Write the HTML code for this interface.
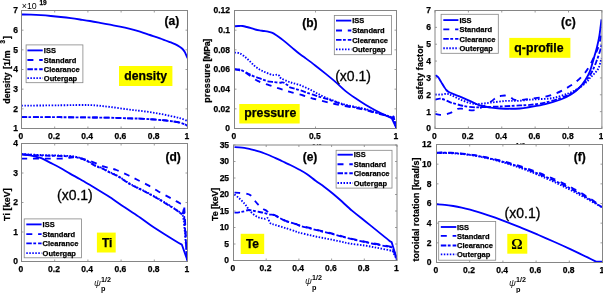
<!DOCTYPE html>
<html><head><meta charset="utf-8"><style>
html,body{margin:0;padding:0;background:#fff;width:603px;height:293px;overflow:hidden}
svg{display:block}
</style></head><body>
<svg width="603" height="293" viewBox="0 0 603 293" font-family="'Liberation Sans', Arial, Helvetica, sans-serif">
<rect width="603" height="293" fill="#fff"/>
<rect x="21.5" y="10.5" width="166.0" height="118.0" fill="#fff"/>
<clipPath id="clip_a"><rect x="21.5" y="10.5" width="166.0" height="118.0"/></clipPath>
<line x1="21.50" y1="128.5" x2="21.50" y2="126.5" stroke="#858585" stroke-width="0.8"/>
<line x1="21.50" y1="10.5" x2="21.50" y2="12.5" stroke="#858585" stroke-width="0.8"/>
<text x="20.80" y="139.10" font-size="8.5" font-weight="bold" text-anchor="middle" fill="#000" stroke="#000" stroke-width="0.25" >0</text>
<line x1="54.70" y1="128.5" x2="54.70" y2="126.5" stroke="#858585" stroke-width="0.8"/>
<line x1="54.70" y1="10.5" x2="54.70" y2="12.5" stroke="#858585" stroke-width="0.8"/>
<text x="54.00" y="139.10" font-size="8.5" font-weight="bold" text-anchor="middle" fill="#000" stroke="#000" stroke-width="0.25" >0.2</text>
<line x1="87.90" y1="128.5" x2="87.90" y2="126.5" stroke="#858585" stroke-width="0.8"/>
<line x1="87.90" y1="10.5" x2="87.90" y2="12.5" stroke="#858585" stroke-width="0.8"/>
<text x="87.20" y="139.10" font-size="8.5" font-weight="bold" text-anchor="middle" fill="#000" stroke="#000" stroke-width="0.25" >0.4</text>
<line x1="121.10" y1="128.5" x2="121.10" y2="126.5" stroke="#858585" stroke-width="0.8"/>
<line x1="121.10" y1="10.5" x2="121.10" y2="12.5" stroke="#858585" stroke-width="0.8"/>
<text x="120.40" y="139.10" font-size="8.5" font-weight="bold" text-anchor="middle" fill="#000" stroke="#000" stroke-width="0.25" >0.6</text>
<line x1="154.30" y1="128.5" x2="154.30" y2="126.5" stroke="#858585" stroke-width="0.8"/>
<line x1="154.30" y1="10.5" x2="154.30" y2="12.5" stroke="#858585" stroke-width="0.8"/>
<text x="153.60" y="139.10" font-size="8.5" font-weight="bold" text-anchor="middle" fill="#000" stroke="#000" stroke-width="0.25" >0.8</text>
<line x1="187.50" y1="128.5" x2="187.50" y2="126.5" stroke="#858585" stroke-width="0.8"/>
<line x1="187.50" y1="10.5" x2="187.50" y2="12.5" stroke="#858585" stroke-width="0.8"/>
<text x="186.80" y="139.10" font-size="8.5" font-weight="bold" text-anchor="middle" fill="#000" stroke="#000" stroke-width="0.25" >1</text>
<line x1="21.5" y1="128.50" x2="23.5" y2="128.50" stroke="#858585" stroke-width="0.8"/>
<line x1="187.5" y1="128.50" x2="185.5" y2="128.50" stroke="#858585" stroke-width="0.8"/>
<text x="17.90" y="131.40" font-size="8.5" font-weight="bold" text-anchor="end" fill="#000" stroke="#000" stroke-width="0.25" >1</text>
<line x1="21.5" y1="108.83" x2="23.5" y2="108.83" stroke="#858585" stroke-width="0.8"/>
<line x1="187.5" y1="108.83" x2="185.5" y2="108.83" stroke="#858585" stroke-width="0.8"/>
<text x="17.90" y="111.73" font-size="8.5" font-weight="bold" text-anchor="end" fill="#000" stroke="#000" stroke-width="0.25" >2</text>
<line x1="21.5" y1="89.17" x2="23.5" y2="89.17" stroke="#858585" stroke-width="0.8"/>
<line x1="187.5" y1="89.17" x2="185.5" y2="89.17" stroke="#858585" stroke-width="0.8"/>
<text x="17.90" y="92.07" font-size="8.5" font-weight="bold" text-anchor="end" fill="#000" stroke="#000" stroke-width="0.25" >3</text>
<line x1="21.5" y1="69.50" x2="23.5" y2="69.50" stroke="#858585" stroke-width="0.8"/>
<line x1="187.5" y1="69.50" x2="185.5" y2="69.50" stroke="#858585" stroke-width="0.8"/>
<text x="17.90" y="72.40" font-size="8.5" font-weight="bold" text-anchor="end" fill="#000" stroke="#000" stroke-width="0.25" >4</text>
<line x1="21.5" y1="49.83" x2="23.5" y2="49.83" stroke="#858585" stroke-width="0.8"/>
<line x1="187.5" y1="49.83" x2="185.5" y2="49.83" stroke="#858585" stroke-width="0.8"/>
<text x="17.90" y="52.73" font-size="8.5" font-weight="bold" text-anchor="end" fill="#000" stroke="#000" stroke-width="0.25" >5</text>
<line x1="21.5" y1="30.17" x2="23.5" y2="30.17" stroke="#858585" stroke-width="0.8"/>
<line x1="187.5" y1="30.17" x2="185.5" y2="30.17" stroke="#858585" stroke-width="0.8"/>
<text x="17.90" y="33.07" font-size="8.5" font-weight="bold" text-anchor="end" fill="#000" stroke="#000" stroke-width="0.25" >6</text>
<line x1="21.5" y1="10.50" x2="23.5" y2="10.50" stroke="#858585" stroke-width="0.8"/>
<line x1="187.5" y1="10.50" x2="185.5" y2="10.50" stroke="#858585" stroke-width="0.8"/>
<text x="17.90" y="13.40" font-size="8.5" font-weight="bold" text-anchor="end" fill="#000" stroke="#000" stroke-width="0.25" >7</text>
<path d="M21.50,105.70 C27.92,105.63 48.58,105.40 60.00,105.30 C71.42,105.20 81.73,104.83 90.00,105.10 C98.27,105.37 102.93,106.13 109.60,106.90 C116.27,107.67 124.93,109.05 130.00,109.70 C135.07,110.35 136.67,110.40 140.00,110.80 C143.33,111.20 146.67,111.60 150.00,112.10 C153.33,112.60 156.67,113.17 160.00,113.80 C163.33,114.43 166.67,115.17 170.00,115.90 C173.33,116.63 177.08,117.35 180.00,118.20 C182.92,119.05 186.25,120.53 187.50,121.00" fill="none" stroke="#0000ff" stroke-width="1.85" stroke-dasharray="1.5 1.5" stroke-linejoin="round" clip-path="url(#clip_a)"/>
<path d="M21.50,117.10 C27.92,117.12 45.42,117.10 60.00,117.20 C74.58,117.30 97.33,117.50 109.00,117.70 C120.67,117.90 124.83,118.25 130.00,118.40 C135.17,118.55 136.67,118.47 140.00,118.60 C143.33,118.73 146.67,118.97 150.00,119.20 C153.33,119.43 156.67,119.70 160.00,120.00 C163.33,120.30 166.67,120.55 170.00,121.00 C173.33,121.45 177.08,121.93 180.00,122.70 C182.92,123.47 186.25,125.12 187.50,125.60" fill="none" stroke="#0000ff" stroke-width="1.85" stroke-dasharray="5.8 5.9" stroke-linejoin="round" clip-path="url(#clip_a)"/>
<path d="M21.50,117.10 C27.92,117.12 45.42,117.10 60.00,117.20 C74.58,117.30 97.33,117.50 109.00,117.70 C120.67,117.90 124.83,118.25 130.00,118.40 C135.17,118.55 136.67,118.47 140.00,118.60 C143.33,118.73 146.67,118.97 150.00,119.20 C153.33,119.43 156.67,119.70 160.00,120.00 C163.33,120.30 166.67,120.55 170.00,121.00 C173.33,121.45 177.08,121.93 180.00,122.70 C182.92,123.47 186.25,125.12 187.50,125.60" fill="none" stroke="#0000ff" stroke-width="1.85" stroke-dasharray="5.5 1.5 2.8 2" stroke-linejoin="round" clip-path="url(#clip_a)"/>
<path d="M21.50,14.50 C23.08,14.53 27.77,14.58 31.00,14.70 C34.23,14.82 37.58,14.98 40.90,15.20 C44.22,15.42 47.58,15.70 50.90,16.00 C54.22,16.30 57.48,16.63 60.80,17.00 C64.12,17.37 67.60,17.78 70.80,18.20 C74.00,18.62 76.80,19.03 80.00,19.50 C83.20,19.97 86.67,20.45 90.00,21.00 C93.33,21.55 96.67,22.18 100.00,22.80 C103.33,23.42 106.67,24.07 110.00,24.70 C113.33,25.33 116.67,25.90 120.00,26.60 C123.33,27.30 126.67,28.07 130.00,28.90 C133.33,29.73 136.67,30.58 140.00,31.60 C143.33,32.62 146.67,33.87 150.00,35.00 C153.33,36.13 156.67,37.20 160.00,38.40 C163.33,39.60 167.50,41.23 170.00,42.20 C172.50,43.17 173.33,43.38 175.00,44.20 C176.67,45.02 178.67,46.22 180.00,47.10 C181.33,47.98 182.17,48.62 183.00,49.50 C183.83,50.38 184.25,50.95 185.00,52.40 C185.75,53.85 187.08,57.23 187.50,58.20" fill="none" stroke="#0000ff" stroke-width="1.85"  stroke-linejoin="round" clip-path="url(#clip_a)"/>
<rect x="21.5" y="10.5" width="166.00" height="118.00" fill="none" stroke="#858585" stroke-width="1"/>
<rect x="26.1" y="44.9" width="56.80" height="37.80" fill="#fff" stroke="#858585" stroke-width="0.8"/>
<line x1="27.4" y1="50.40" x2="42.7" y2="50.40" stroke="#0000ff" stroke-width="1.85" />
<text x="43.80" y="53.00" font-size="7.5" font-weight="bold" text-anchor="start" fill="#000" stroke="#000" stroke-width="0.25" >ISS</text>
<line x1="27.4" y1="60.00" x2="42.7" y2="60.00" stroke="#0000ff" stroke-width="1.85" stroke-dasharray="6 5.8"/>
<text x="43.80" y="62.60" font-size="7.5" font-weight="bold" text-anchor="start" fill="#000" stroke="#000" stroke-width="0.25" >Standard</text>
<line x1="27.4" y1="69.20" x2="42.7" y2="69.20" stroke="#0000ff" stroke-width="1.85" stroke-dasharray="5.5 1.5 2.8 2"/>
<text x="43.80" y="71.80" font-size="7.5" font-weight="bold" text-anchor="start" fill="#000" stroke="#000" stroke-width="0.25" >Clearance</text>
<line x1="27.4" y1="78.10" x2="42.7" y2="78.10" stroke="#0000ff" stroke-width="1.85" stroke-dasharray="1.5 1.5"/>
<text x="43.80" y="80.70" font-size="7.5" font-weight="bold" text-anchor="start" fill="#000" stroke="#000" stroke-width="0.25" >Outergap</text>
<rect x="119" y="66" width="53.40" height="20.00" fill="#ffff00"/>
<text x="145.70" y="80.30" font-size="12.2" font-weight="bold" text-anchor="middle" fill="#000" stroke="#000" stroke-width="0.25" >density</text>
<text x="164.50" y="24.60" font-size="12" font-weight="bold" text-anchor="start" fill="#000" stroke="#000" stroke-width="0.25" >(a)</text>
<text x="21.80" y="8.60" font-size="8.8" font-weight="normal" text-anchor="start" fill="#000"  >×10</text>
<text x="39.50" y="4.60" font-size="6.5" font-weight="bold" text-anchor="start" fill="#000" stroke="#000" stroke-width="0.25" >19</text>
<text x="0" y="0" font-size="8.9" font-weight="bold" textLength="31.3" lengthAdjust="spacing" transform="translate(9.60,103.80) rotate(-90)" stroke="#000" stroke-width="0.25">density</text>
<text x="0" y="0" font-size="8.9" font-weight="bold" textLength="18.7" lengthAdjust="spacing" transform="translate(9.60,69.10) rotate(-90)" stroke="#000" stroke-width="0.25">[1/m</text>
<text x="0" y="0" font-size="6.3" font-weight="bold" transform="translate(5.10,43.60) rotate(-90)" stroke="#000" stroke-width="0.25">3</text>
<text x="0" y="0" font-size="8.9" font-weight="bold" transform="translate(9.60,39.10) rotate(-90)" stroke="#000" stroke-width="0.25">]</text>
<rect x="234.5" y="10.5" width="162.0" height="118.0" fill="#fff"/>
<clipPath id="clip_b"><rect x="234.5" y="10.5" width="162.0" height="118.0"/></clipPath>
<line x1="234.50" y1="128.5" x2="234.50" y2="126.5" stroke="#858585" stroke-width="0.8"/>
<line x1="234.50" y1="10.5" x2="234.50" y2="12.5" stroke="#858585" stroke-width="0.8"/>
<text x="233.80" y="139.10" font-size="8.5" font-weight="bold" text-anchor="middle" fill="#000" stroke="#000" stroke-width="0.25" >0</text>
<line x1="315.50" y1="128.5" x2="315.50" y2="126.5" stroke="#858585" stroke-width="0.8"/>
<line x1="315.50" y1="10.5" x2="315.50" y2="12.5" stroke="#858585" stroke-width="0.8"/>
<text x="314.80" y="139.10" font-size="8.5" font-weight="bold" text-anchor="middle" fill="#000" stroke="#000" stroke-width="0.25" >0.5</text>
<line x1="396.50" y1="128.5" x2="396.50" y2="126.5" stroke="#858585" stroke-width="0.8"/>
<line x1="396.50" y1="10.5" x2="396.50" y2="12.5" stroke="#858585" stroke-width="0.8"/>
<text x="395.80" y="139.10" font-size="8.5" font-weight="bold" text-anchor="middle" fill="#000" stroke="#000" stroke-width="0.25" >1</text>
<line x1="234.5" y1="128.50" x2="236.5" y2="128.50" stroke="#858585" stroke-width="0.8"/>
<line x1="396.5" y1="128.50" x2="394.5" y2="128.50" stroke="#858585" stroke-width="0.8"/>
<text x="230.00" y="131.40" font-size="8.5" font-weight="bold" text-anchor="end" fill="#000" stroke="#000" stroke-width="0.25" >0</text>
<line x1="234.5" y1="108.83" x2="236.5" y2="108.83" stroke="#858585" stroke-width="0.8"/>
<line x1="396.5" y1="108.83" x2="394.5" y2="108.83" stroke="#858585" stroke-width="0.8"/>
<text x="230.00" y="111.73" font-size="8.5" font-weight="bold" text-anchor="end" fill="#000" stroke="#000" stroke-width="0.25" >0.02</text>
<line x1="234.5" y1="89.17" x2="236.5" y2="89.17" stroke="#858585" stroke-width="0.8"/>
<line x1="396.5" y1="89.17" x2="394.5" y2="89.17" stroke="#858585" stroke-width="0.8"/>
<text x="230.00" y="92.07" font-size="8.5" font-weight="bold" text-anchor="end" fill="#000" stroke="#000" stroke-width="0.25" >0.04</text>
<line x1="234.5" y1="69.50" x2="236.5" y2="69.50" stroke="#858585" stroke-width="0.8"/>
<line x1="396.5" y1="69.50" x2="394.5" y2="69.50" stroke="#858585" stroke-width="0.8"/>
<text x="230.00" y="72.40" font-size="8.5" font-weight="bold" text-anchor="end" fill="#000" stroke="#000" stroke-width="0.25" >0.06</text>
<line x1="234.5" y1="49.83" x2="236.5" y2="49.83" stroke="#858585" stroke-width="0.8"/>
<line x1="396.5" y1="49.83" x2="394.5" y2="49.83" stroke="#858585" stroke-width="0.8"/>
<text x="230.00" y="52.73" font-size="8.5" font-weight="bold" text-anchor="end" fill="#000" stroke="#000" stroke-width="0.25" >0.08</text>
<line x1="234.5" y1="30.17" x2="236.5" y2="30.17" stroke="#858585" stroke-width="0.8"/>
<line x1="396.5" y1="30.17" x2="394.5" y2="30.17" stroke="#858585" stroke-width="0.8"/>
<text x="230.00" y="33.07" font-size="8.5" font-weight="bold" text-anchor="end" fill="#000" stroke="#000" stroke-width="0.25" >0.1</text>
<line x1="234.5" y1="10.50" x2="236.5" y2="10.50" stroke="#858585" stroke-width="0.8"/>
<line x1="396.5" y1="10.50" x2="394.5" y2="10.50" stroke="#858585" stroke-width="0.8"/>
<text x="230.00" y="13.40" font-size="8.5" font-weight="bold" text-anchor="end" fill="#000" stroke="#000" stroke-width="0.25" >0.12</text>
<path d="M234.50,52.60 C235.27,52.68 237.48,52.50 239.10,53.10 C240.72,53.70 242.50,54.92 244.20,56.20 C245.90,57.48 247.58,59.18 249.30,60.80 C251.02,62.42 252.78,64.45 254.50,65.90 C256.22,67.35 257.90,68.48 259.60,69.50 C261.30,70.52 263.00,71.23 264.70,72.00 C266.40,72.77 268.25,73.57 269.80,74.10 C271.35,74.63 272.80,75.10 274.00,75.20 C275.20,75.30 276.17,74.65 277.00,74.70 C277.83,74.75 278.33,74.90 279.00,75.50 C279.67,76.10 279.17,77.18 281.00,78.30 C282.83,79.42 286.80,81.05 290.00,82.20 C293.20,83.35 296.78,83.93 300.20,85.20 C303.62,86.47 307.08,88.12 310.50,89.80 C313.92,91.48 317.45,93.70 320.70,95.30 C323.95,96.90 326.78,98.12 330.00,99.40 C333.22,100.68 337.50,102.13 340.00,103.00 C342.50,103.87 342.47,103.97 345.00,104.60 C347.53,105.23 351.78,106.07 355.20,106.80 C358.62,107.53 362.08,108.10 365.50,109.00 C368.92,109.90 372.45,111.23 375.70,112.20 C378.95,113.17 382.78,114.12 385.00,114.80 C387.22,115.48 387.83,115.93 389.00,116.30 C390.17,116.67 391.25,116.97 392.00,117.00 C392.75,117.03 393.25,116.58 393.50,116.50 L396.30,127.80" fill="none" stroke="#0000ff" stroke-width="1.85" stroke-dasharray="1.5 1.5" stroke-linejoin="round" clip-path="url(#clip_b)"/>
<path d="M234.50,69.60 C235.27,69.67 237.48,69.60 239.10,70.00 C240.72,70.40 242.50,71.13 244.20,72.00 C245.90,72.87 247.05,73.72 249.30,75.20 C251.55,76.68 254.42,79.25 257.70,80.90 C260.98,82.55 265.32,83.80 269.00,85.10 C272.68,86.40 276.30,87.57 279.80,88.70 C283.30,89.83 286.08,90.77 290.00,91.90 C293.92,93.03 299.20,94.32 303.30,95.50 C307.40,96.68 310.68,97.90 314.60,99.00 C318.52,100.10 323.40,101.27 326.80,102.10 C330.20,102.93 331.97,103.35 335.00,104.00 C338.03,104.65 341.63,105.33 345.00,106.00 C348.37,106.67 351.78,107.33 355.20,108.00 C358.62,108.67 362.08,109.17 365.50,110.00 C368.92,110.83 372.45,112.10 375.70,113.00 C378.95,113.90 382.78,114.77 385.00,115.40 C387.22,116.03 387.83,116.40 389.00,116.80 C390.17,117.20 391.25,117.73 392.00,117.80 C392.75,117.87 393.25,117.30 393.50,117.20 L396.30,127.80" fill="none" stroke="#0000ff" stroke-width="1.85" stroke-dasharray="5.8 5.9" stroke-linejoin="round" clip-path="url(#clip_b)"/>
<path d="M234.50,69.00 C235.27,69.08 237.48,69.08 239.10,69.50 C240.72,69.92 242.50,70.73 244.20,71.50 C245.90,72.27 247.58,73.25 249.30,74.10 C251.02,74.95 252.40,75.77 254.50,76.60 C256.60,77.43 259.67,78.32 261.90,79.10 C264.13,79.88 265.92,80.80 267.90,81.30 C269.88,81.80 271.82,81.87 273.80,82.10 C275.78,82.33 278.20,82.63 279.80,82.70 C281.40,82.77 282.00,82.00 283.40,82.50 C284.80,83.00 287.10,84.90 288.20,85.70 C289.30,86.50 288.00,86.53 290.00,87.30 C292.00,88.07 296.78,89.20 300.20,90.30 C303.62,91.40 307.08,92.75 310.50,93.90 C313.92,95.05 317.45,96.18 320.70,97.20 C323.95,98.22 326.78,98.95 330.00,100.00 C333.22,101.05 337.50,102.62 340.00,103.50 C342.50,104.38 342.47,104.65 345.00,105.30 C347.53,105.95 351.78,106.70 355.20,107.40 C358.62,108.10 362.08,108.63 365.50,109.50 C368.92,110.37 372.45,111.67 375.70,112.60 C378.95,113.53 382.78,114.43 385.00,115.10 C387.22,115.77 387.83,116.20 389.00,116.60 C390.17,117.00 391.25,117.43 392.00,117.50 C392.75,117.57 393.25,117.08 393.50,117.00 L396.30,127.80" fill="none" stroke="#0000ff" stroke-width="1.85" stroke-dasharray="5.5 1.5 2.8 2" stroke-linejoin="round" clip-path="url(#clip_b)"/>
<path d="M234.50,26.30 C235.13,26.25 236.97,26.05 238.30,26.00 C239.63,25.95 241.08,25.83 242.50,26.00 C243.92,26.17 245.37,26.63 246.80,27.00 C248.23,27.37 249.68,27.78 251.10,28.20 C252.52,28.62 253.88,29.13 255.30,29.50 C256.72,29.87 258.17,30.15 259.60,30.40 C261.03,30.65 262.48,30.78 263.90,31.00 C265.32,31.22 266.68,31.38 268.10,31.70 C269.52,32.02 270.97,32.27 272.40,32.90 C273.83,33.53 275.28,34.57 276.70,35.50 C278.12,36.43 279.43,37.40 280.90,38.50 C282.37,39.60 283.60,40.53 285.50,42.10 C287.40,43.67 290.03,45.98 292.30,47.90 C294.57,49.82 296.98,51.95 299.10,53.60 C301.22,55.25 302.32,55.83 305.00,57.80 C307.68,59.77 311.78,62.77 315.20,65.40 C318.62,68.03 322.08,70.82 325.50,73.60 C328.92,76.38 332.45,79.27 335.70,82.10 C338.95,84.93 341.75,87.93 345.00,90.60 C348.25,93.27 351.78,95.73 355.20,98.10 C358.62,100.47 362.08,102.73 365.50,104.80 C368.92,106.87 372.45,108.78 375.70,110.50 C378.95,112.22 382.78,114.05 385.00,115.10 C387.22,116.15 387.88,116.32 389.00,116.80 C390.12,117.28 391.25,117.80 391.70,118.00 L396.30,127.80" fill="none" stroke="#0000ff" stroke-width="1.85"  stroke-linejoin="round" clip-path="url(#clip_b)"/>
<rect x="234.5" y="10.5" width="162.00" height="118.00" fill="none" stroke="#858585" stroke-width="1"/>
<rect x="334.3" y="15.5" width="57.20" height="39.20" fill="#fff" stroke="#858585" stroke-width="0.8"/>
<line x1="336.0" y1="20.60" x2="351.3" y2="20.60" stroke="#0000ff" stroke-width="1.85" />
<text x="352.20" y="23.20" font-size="7.5" font-weight="bold" text-anchor="start" fill="#000" stroke="#000" stroke-width="0.25" >ISS</text>
<line x1="336.0" y1="30.50" x2="351.3" y2="30.50" stroke="#0000ff" stroke-width="1.85" stroke-dasharray="6 5.8"/>
<text x="352.20" y="33.10" font-size="7.5" font-weight="bold" text-anchor="start" fill="#000" stroke="#000" stroke-width="0.25" >Standard</text>
<line x1="336.0" y1="39.90" x2="351.3" y2="39.90" stroke="#0000ff" stroke-width="1.85" stroke-dasharray="5.5 1.5 2.8 2"/>
<text x="352.20" y="42.50" font-size="7.5" font-weight="bold" text-anchor="start" fill="#000" stroke="#000" stroke-width="0.25" >Clearance</text>
<line x1="336.0" y1="49.30" x2="351.3" y2="49.30" stroke="#0000ff" stroke-width="1.85" stroke-dasharray="1.5 1.5"/>
<text x="352.20" y="51.90" font-size="7.5" font-weight="bold" text-anchor="start" fill="#000" stroke="#000" stroke-width="0.25" >Outergap</text>
<rect x="239.3" y="104" width="60.40" height="19.50" fill="#ffff00"/>
<text x="244.30" y="117.10" font-size="12.3" font-weight="bold" text-anchor="start" fill="#000" stroke="#000" stroke-width="0.25" >pressure</text>
<text x="302.20" y="26.60" font-size="12" font-weight="bold" text-anchor="start" fill="#000" stroke="#000" stroke-width="0.25" >(b)</text>
<text x="335.20" y="81.40" font-size="14" font-weight="normal" text-anchor="start" fill="#000"  stroke="#000" stroke-width="0.3">(x0.1)</text>
<text x="0" y="0" font-size="8.9" font-weight="bold" textLength="39.2" lengthAdjust="spacing" transform="translate(210.00,102.70) rotate(-90)" stroke="#000" stroke-width="0.25">pressure</text>
<text x="0" y="0" font-size="8.9" font-weight="bold" textLength="22.8" lengthAdjust="spacing" transform="translate(210.00,61.50) rotate(-90)" stroke="#000" stroke-width="0.25">[MPa]</text>
<rect x="435.0" y="10.5" width="166.89999999999998" height="118.0" fill="#fff"/>
<clipPath id="clip_c"><rect x="435.0" y="10.5" width="166.89999999999998" height="118.0"/></clipPath>
<line x1="435.00" y1="128.5" x2="435.00" y2="126.5" stroke="#858585" stroke-width="0.8"/>
<line x1="435.00" y1="10.5" x2="435.00" y2="12.5" stroke="#858585" stroke-width="0.8"/>
<text x="434.30" y="139.10" font-size="8.5" font-weight="bold" text-anchor="middle" fill="#000" stroke="#000" stroke-width="0.25" >0</text>
<line x1="468.38" y1="128.5" x2="468.38" y2="126.5" stroke="#858585" stroke-width="0.8"/>
<line x1="468.38" y1="10.5" x2="468.38" y2="12.5" stroke="#858585" stroke-width="0.8"/>
<text x="467.68" y="139.10" font-size="8.5" font-weight="bold" text-anchor="middle" fill="#000" stroke="#000" stroke-width="0.25" >0.2</text>
<line x1="501.76" y1="128.5" x2="501.76" y2="126.5" stroke="#858585" stroke-width="0.8"/>
<line x1="501.76" y1="10.5" x2="501.76" y2="12.5" stroke="#858585" stroke-width="0.8"/>
<text x="501.06" y="139.10" font-size="8.5" font-weight="bold" text-anchor="middle" fill="#000" stroke="#000" stroke-width="0.25" >0.4</text>
<line x1="535.14" y1="128.5" x2="535.14" y2="126.5" stroke="#858585" stroke-width="0.8"/>
<line x1="535.14" y1="10.5" x2="535.14" y2="12.5" stroke="#858585" stroke-width="0.8"/>
<text x="534.44" y="139.10" font-size="8.5" font-weight="bold" text-anchor="middle" fill="#000" stroke="#000" stroke-width="0.25" >0.6</text>
<line x1="568.52" y1="128.5" x2="568.52" y2="126.5" stroke="#858585" stroke-width="0.8"/>
<line x1="568.52" y1="10.5" x2="568.52" y2="12.5" stroke="#858585" stroke-width="0.8"/>
<text x="567.82" y="139.10" font-size="8.5" font-weight="bold" text-anchor="middle" fill="#000" stroke="#000" stroke-width="0.25" >0.8</text>
<line x1="601.90" y1="128.5" x2="601.90" y2="126.5" stroke="#858585" stroke-width="0.8"/>
<line x1="601.90" y1="10.5" x2="601.90" y2="12.5" stroke="#858585" stroke-width="0.8"/>
<text x="601.20" y="139.10" font-size="8.5" font-weight="bold" text-anchor="middle" fill="#000" stroke="#000" stroke-width="0.25" >1</text>
<line x1="435.0" y1="128.50" x2="437.0" y2="128.50" stroke="#858585" stroke-width="0.8"/>
<line x1="601.9" y1="128.50" x2="599.9" y2="128.50" stroke="#858585" stroke-width="0.8"/>
<text x="431.00" y="131.40" font-size="8.5" font-weight="bold" text-anchor="end" fill="#000" stroke="#000" stroke-width="0.25" >0</text>
<line x1="435.0" y1="111.64" x2="437.0" y2="111.64" stroke="#858585" stroke-width="0.8"/>
<line x1="601.9" y1="111.64" x2="599.9" y2="111.64" stroke="#858585" stroke-width="0.8"/>
<text x="431.00" y="114.54" font-size="8.5" font-weight="bold" text-anchor="end" fill="#000" stroke="#000" stroke-width="0.25" >1</text>
<line x1="435.0" y1="94.79" x2="437.0" y2="94.79" stroke="#858585" stroke-width="0.8"/>
<line x1="601.9" y1="94.79" x2="599.9" y2="94.79" stroke="#858585" stroke-width="0.8"/>
<text x="431.00" y="97.69" font-size="8.5" font-weight="bold" text-anchor="end" fill="#000" stroke="#000" stroke-width="0.25" >2</text>
<line x1="435.0" y1="77.93" x2="437.0" y2="77.93" stroke="#858585" stroke-width="0.8"/>
<line x1="601.9" y1="77.93" x2="599.9" y2="77.93" stroke="#858585" stroke-width="0.8"/>
<text x="431.00" y="80.83" font-size="8.5" font-weight="bold" text-anchor="end" fill="#000" stroke="#000" stroke-width="0.25" >3</text>
<line x1="435.0" y1="61.07" x2="437.0" y2="61.07" stroke="#858585" stroke-width="0.8"/>
<line x1="601.9" y1="61.07" x2="599.9" y2="61.07" stroke="#858585" stroke-width="0.8"/>
<text x="431.00" y="63.97" font-size="8.5" font-weight="bold" text-anchor="end" fill="#000" stroke="#000" stroke-width="0.25" >4</text>
<line x1="435.0" y1="44.21" x2="437.0" y2="44.21" stroke="#858585" stroke-width="0.8"/>
<line x1="601.9" y1="44.21" x2="599.9" y2="44.21" stroke="#858585" stroke-width="0.8"/>
<text x="431.00" y="47.11" font-size="8.5" font-weight="bold" text-anchor="end" fill="#000" stroke="#000" stroke-width="0.25" >5</text>
<line x1="435.0" y1="27.36" x2="437.0" y2="27.36" stroke="#858585" stroke-width="0.8"/>
<line x1="601.9" y1="27.36" x2="599.9" y2="27.36" stroke="#858585" stroke-width="0.8"/>
<text x="431.00" y="30.26" font-size="8.5" font-weight="bold" text-anchor="end" fill="#000" stroke="#000" stroke-width="0.25" >6</text>
<line x1="435.0" y1="10.50" x2="437.0" y2="10.50" stroke="#858585" stroke-width="0.8"/>
<line x1="601.9" y1="10.50" x2="599.9" y2="10.50" stroke="#858585" stroke-width="0.8"/>
<text x="431.00" y="13.40" font-size="8.5" font-weight="bold" text-anchor="end" fill="#000" stroke="#000" stroke-width="0.25" >7</text>
<path d="M435.30,114.00 C436.10,114.15 438.45,114.80 440.10,114.90 C441.75,115.00 443.50,114.92 445.20,114.60 C446.90,114.28 449.10,113.43 450.30,113.00 C451.50,112.57 451.20,112.68 452.40,112.00 C453.60,111.32 455.97,109.45 457.50,108.90 C459.03,108.35 459.72,108.48 461.60,108.70 C463.48,108.92 466.57,109.98 468.80,110.20 C471.03,110.42 473.13,110.33 475.00,110.00 C476.87,109.67 477.45,109.53 480.00,108.20 C482.55,106.87 487.47,103.87 490.30,102.00 C493.13,100.13 495.30,98.00 497.00,97.00 C498.70,96.00 499.03,96.23 500.50,96.00 C501.97,95.77 504.12,95.38 505.80,95.60 C507.48,95.82 509.23,96.62 510.60,97.30 C511.97,97.98 512.43,99.25 514.00,99.70 C515.57,100.15 517.33,100.15 520.00,100.00 C522.67,99.85 526.03,99.32 530.00,98.80 C533.97,98.28 539.45,97.80 543.80,96.90 C548.15,96.00 552.27,94.88 556.10,93.40 C559.93,91.92 563.48,89.92 566.80,88.00 C570.12,86.08 573.05,84.33 576.00,81.90 C578.95,79.47 582.25,76.05 584.50,73.40 C586.75,70.75 587.75,69.07 589.50,66.00 C591.25,62.93 593.42,58.50 595.00,55.00 C596.58,51.50 597.92,48.67 599.00,45.00 C600.08,41.33 601.08,35.00 601.50,33.00" fill="none" stroke="#0000ff" stroke-width="1.85" stroke-dasharray="5.8 5.9" stroke-linejoin="round" clip-path="url(#clip_c)"/>
<path d="M435.30,99.70 C436.10,99.53 438.45,98.65 440.10,98.70 C441.75,98.75 443.50,99.40 445.20,100.00 C446.90,100.60 448.58,101.67 450.30,102.30 C452.02,102.93 453.78,103.30 455.50,103.80 C457.22,104.30 458.90,104.87 460.60,105.30 C462.30,105.73 463.30,106.05 465.70,106.40 C468.10,106.75 472.62,107.27 475.00,107.40 C477.38,107.53 475.83,107.35 480.00,107.20 C484.17,107.05 493.33,106.80 500.00,106.50 C506.67,106.20 515.00,105.67 520.00,105.40 C525.00,105.13 525.78,105.37 530.00,104.90 C534.22,104.43 540.18,103.75 545.30,102.60 C550.42,101.45 556.35,99.53 560.70,98.00 C565.05,96.47 567.65,95.72 571.40,93.40 C575.15,91.08 579.82,87.63 583.20,84.10 C586.58,80.57 589.42,76.18 591.70,72.20 C593.98,68.22 595.47,63.90 596.90,60.20 C598.33,56.50 599.53,52.53 600.30,50.00 C601.07,47.47 601.30,45.83 601.50,45.00" fill="none" stroke="#0000ff" stroke-width="1.85" stroke-dasharray="5.5 1.5 2.8 2" stroke-linejoin="round" clip-path="url(#clip_c)"/>
<path d="M435.30,94.50 C436.27,94.50 439.10,94.62 441.10,94.50 C443.10,94.38 445.48,93.63 447.30,93.80 C449.12,93.97 449.78,94.52 452.00,95.50 C454.22,96.48 457.47,98.40 460.60,99.70 C463.73,101.00 467.90,102.58 470.80,103.30 C473.70,104.02 474.75,104.10 478.00,104.00 C481.25,103.90 485.67,103.22 490.30,102.70 C494.93,102.18 501.22,101.20 505.80,100.90 C510.38,100.60 513.82,101.10 517.80,100.90 C521.78,100.70 526.00,100.00 529.70,99.70 C533.40,99.40 536.12,99.38 540.00,99.10 C543.88,98.82 548.27,98.95 553.00,98.00 C557.73,97.05 564.05,95.07 568.40,93.40 C572.75,91.73 576.03,89.92 579.10,88.00 C582.17,86.08 584.98,83.57 586.80,81.90 C588.62,80.23 588.80,79.32 590.00,78.00 C591.20,76.68 592.57,75.67 594.00,74.00 C595.43,72.33 597.35,70.67 598.60,68.00 C599.85,65.33 601.02,59.67 601.50,58.00" fill="none" stroke="#0000ff" stroke-width="1.85" stroke-dasharray="1.5 1.5" stroke-linejoin="round" clip-path="url(#clip_c)"/>
<path d="M435.50,75.10 C435.93,75.45 437.33,76.35 438.10,77.20 C438.87,78.05 439.42,79.10 440.10,80.20 C440.78,81.30 441.52,82.68 442.20,83.80 C442.88,84.92 443.52,85.87 444.20,86.90 C444.88,87.93 445.45,89.10 446.30,90.00 C447.15,90.90 447.77,91.48 449.30,92.30 C450.83,93.12 453.62,94.15 455.50,94.90 C457.38,95.65 458.90,96.10 460.60,96.80 C462.30,97.50 463.30,98.02 465.70,99.10 C468.10,100.18 472.62,102.23 475.00,103.30 C477.38,104.37 477.50,104.80 480.00,105.50 C482.50,106.20 486.67,107.00 490.00,107.50 C493.33,108.00 495.00,108.33 500.00,108.50 C505.00,108.67 515.00,108.75 520.00,108.50 C525.00,108.25 525.78,107.73 530.00,107.00 C534.22,106.27 540.18,105.35 545.30,104.10 C550.42,102.85 556.35,101.15 560.70,99.50 C565.05,97.85 568.33,96.12 571.40,94.20 C574.47,92.28 576.80,90.32 579.10,88.00 C581.40,85.68 583.38,83.12 585.20,80.30 C587.02,77.48 588.62,74.58 590.00,71.10 C591.38,67.62 592.35,63.33 593.50,59.40 C594.65,55.47 595.92,51.47 596.90,47.50 C597.88,43.53 598.63,40.28 599.40,35.60 C600.17,30.92 601.15,22.10 601.50,19.40" fill="none" stroke="#0000ff" stroke-width="1.85"  stroke-linejoin="round" clip-path="url(#clip_c)"/>
<rect x="435.0" y="10.5" width="166.90" height="118.00" fill="none" stroke="#858585" stroke-width="1"/>
<rect x="441.1" y="14.3" width="57.20" height="39.00" fill="#fff" stroke="#858585" stroke-width="0.8"/>
<line x1="443.3" y1="20.10" x2="458.4" y2="20.10" stroke="#0000ff" stroke-width="1.85" />
<text x="459.50" y="22.70" font-size="7.5" font-weight="bold" text-anchor="start" fill="#000" stroke="#000" stroke-width="0.25" >ISS</text>
<line x1="443.3" y1="29.40" x2="458.4" y2="29.40" stroke="#0000ff" stroke-width="1.85" stroke-dasharray="6 5.8"/>
<text x="459.50" y="32.00" font-size="7.5" font-weight="bold" text-anchor="start" fill="#000" stroke="#000" stroke-width="0.25" >Standard</text>
<line x1="443.3" y1="38.90" x2="458.4" y2="38.90" stroke="#0000ff" stroke-width="1.85" stroke-dasharray="5.5 1.5 2.8 2"/>
<text x="459.50" y="41.50" font-size="7.5" font-weight="bold" text-anchor="start" fill="#000" stroke="#000" stroke-width="0.25" >Clearance</text>
<line x1="443.3" y1="48.20" x2="458.4" y2="48.20" stroke="#0000ff" stroke-width="1.85" stroke-dasharray="1.5 1.5"/>
<text x="459.50" y="50.80" font-size="7.5" font-weight="bold" text-anchor="start" fill="#000" stroke="#000" stroke-width="0.25" >Outergap</text>
<rect x="509.3" y="37.9" width="61.10" height="19.90" fill="#ffff00"/>
<text x="538.90" y="52.00" font-size="12.3" font-weight="bold" text-anchor="middle" fill="#000" stroke="#000" stroke-width="0.25" >q-profile</text>
<text x="561.00" y="26.20" font-size="12" font-weight="bold" text-anchor="start" fill="#000" stroke="#000" stroke-width="0.25" >(c)</text>
<text x="0" y="0" font-size="8.9" font-weight="bold" textLength="54.9" lengthAdjust="spacing" transform="translate(423.00,99.60) rotate(-90)" stroke="#000" stroke-width="0.25">safety factor</text>
<text x="304.90" y="152.70" font-size="9.5" font-style="italic" fill="#222">ψ</text>
<text x="311.80" y="158.00" font-size="7.3" font-weight="bold">p</text>
<text x="312.00" y="148.70" font-size="7.2" font-weight="bold">1/2</text>
<text x="508.50" y="151.80" font-size="9.5" font-style="italic" fill="#222">ψ</text>
<text x="515.40" y="157.10" font-size="7.3" font-weight="bold">p</text>
<text x="515.60" y="147.80" font-size="7.2" font-weight="bold">1/2</text>
<rect x="21.5" y="143.5" width="166.0" height="118.0" fill="#fff"/>
<clipPath id="clip_d"><rect x="21.5" y="143.5" width="166.0" height="118.0"/></clipPath>
<line x1="21.50" y1="261.5" x2="21.50" y2="259.5" stroke="#858585" stroke-width="0.8"/>
<line x1="21.50" y1="143.5" x2="21.50" y2="145.5" stroke="#858585" stroke-width="0.8"/>
<text x="20.80" y="272.10" font-size="8.5" font-weight="bold" text-anchor="middle" fill="#000" stroke="#000" stroke-width="0.25" >0</text>
<line x1="54.70" y1="261.5" x2="54.70" y2="259.5" stroke="#858585" stroke-width="0.8"/>
<line x1="54.70" y1="143.5" x2="54.70" y2="145.5" stroke="#858585" stroke-width="0.8"/>
<text x="54.00" y="272.10" font-size="8.5" font-weight="bold" text-anchor="middle" fill="#000" stroke="#000" stroke-width="0.25" >0.2</text>
<line x1="87.90" y1="261.5" x2="87.90" y2="259.5" stroke="#858585" stroke-width="0.8"/>
<line x1="87.90" y1="143.5" x2="87.90" y2="145.5" stroke="#858585" stroke-width="0.8"/>
<text x="87.20" y="272.10" font-size="8.5" font-weight="bold" text-anchor="middle" fill="#000" stroke="#000" stroke-width="0.25" >0.4</text>
<line x1="121.10" y1="261.5" x2="121.10" y2="259.5" stroke="#858585" stroke-width="0.8"/>
<line x1="121.10" y1="143.5" x2="121.10" y2="145.5" stroke="#858585" stroke-width="0.8"/>
<text x="120.40" y="272.10" font-size="8.5" font-weight="bold" text-anchor="middle" fill="#000" stroke="#000" stroke-width="0.25" >0.6</text>
<line x1="154.30" y1="261.5" x2="154.30" y2="259.5" stroke="#858585" stroke-width="0.8"/>
<line x1="154.30" y1="143.5" x2="154.30" y2="145.5" stroke="#858585" stroke-width="0.8"/>
<text x="153.60" y="272.10" font-size="8.5" font-weight="bold" text-anchor="middle" fill="#000" stroke="#000" stroke-width="0.25" >0.8</text>
<line x1="187.50" y1="261.5" x2="187.50" y2="259.5" stroke="#858585" stroke-width="0.8"/>
<line x1="187.50" y1="143.5" x2="187.50" y2="145.5" stroke="#858585" stroke-width="0.8"/>
<text x="186.80" y="272.10" font-size="8.5" font-weight="bold" text-anchor="middle" fill="#000" stroke="#000" stroke-width="0.25" >1</text>
<line x1="21.5" y1="261.50" x2="23.5" y2="261.50" stroke="#858585" stroke-width="0.8"/>
<line x1="187.5" y1="261.50" x2="185.5" y2="261.50" stroke="#858585" stroke-width="0.8"/>
<text x="17.90" y="264.40" font-size="8.5" font-weight="bold" text-anchor="end" fill="#000" stroke="#000" stroke-width="0.25" >0</text>
<line x1="21.5" y1="232.00" x2="23.5" y2="232.00" stroke="#858585" stroke-width="0.8"/>
<line x1="187.5" y1="232.00" x2="185.5" y2="232.00" stroke="#858585" stroke-width="0.8"/>
<text x="17.90" y="234.90" font-size="8.5" font-weight="bold" text-anchor="end" fill="#000" stroke="#000" stroke-width="0.25" >1</text>
<line x1="21.5" y1="202.50" x2="23.5" y2="202.50" stroke="#858585" stroke-width="0.8"/>
<line x1="187.5" y1="202.50" x2="185.5" y2="202.50" stroke="#858585" stroke-width="0.8"/>
<text x="17.90" y="205.40" font-size="8.5" font-weight="bold" text-anchor="end" fill="#000" stroke="#000" stroke-width="0.25" >2</text>
<line x1="21.5" y1="173.00" x2="23.5" y2="173.00" stroke="#858585" stroke-width="0.8"/>
<line x1="187.5" y1="173.00" x2="185.5" y2="173.00" stroke="#858585" stroke-width="0.8"/>
<text x="17.90" y="175.90" font-size="8.5" font-weight="bold" text-anchor="end" fill="#000" stroke="#000" stroke-width="0.25" >3</text>
<line x1="21.5" y1="143.50" x2="23.5" y2="143.50" stroke="#858585" stroke-width="0.8"/>
<line x1="187.5" y1="143.50" x2="185.5" y2="143.50" stroke="#858585" stroke-width="0.8"/>
<text x="17.90" y="146.40" font-size="8.5" font-weight="bold" text-anchor="end" fill="#000" stroke="#000" stroke-width="0.25" >4</text>
<path d="M21.50,154.00 C24.98,154.18 35.18,154.82 42.40,155.10 C49.62,155.38 59.08,155.38 64.80,155.70 C70.52,156.02 72.97,156.17 76.70,157.00 C80.43,157.83 84.08,159.28 87.20,160.70 C90.32,162.12 92.93,164.28 95.40,165.50 C97.87,166.72 99.63,166.92 102.00,168.00 C104.37,169.08 106.80,170.58 109.60,172.00 C112.40,173.42 115.40,174.53 118.80,176.50 C122.20,178.47 125.57,181.30 130.00,183.80 C134.43,186.30 140.28,188.80 145.40,191.50 C150.52,194.20 156.10,197.32 160.70,200.00 C165.30,202.68 170.12,205.77 173.00,207.60 C175.88,209.43 176.42,209.88 178.00,211.00 C179.58,212.12 181.75,213.75 182.50,214.30 C182.78,216.08 183.42,217.30 184.20,225.00 C184.98,232.70 186.70,254.58 187.20,260.50" fill="none" stroke="#0000ff" stroke-width="1.85" stroke-dasharray="1.5 1.5" stroke-linejoin="round" clip-path="url(#clip_d)"/>
<path d="M21.50,154.40 C24.98,154.58 35.18,155.22 42.40,155.50 C49.62,155.78 59.08,155.78 64.80,156.10 C70.52,156.42 72.97,156.57 76.70,157.40 C80.43,158.23 84.08,159.68 87.20,161.10 C90.32,162.52 92.93,164.68 95.40,165.90 C97.87,167.12 99.63,167.32 102.00,168.40 C104.37,169.48 106.80,170.98 109.60,172.40 C112.40,173.82 115.40,174.93 118.80,176.90 C122.20,178.87 125.57,181.70 130.00,184.20 C134.43,186.70 140.28,189.20 145.40,191.90 C150.52,194.60 156.10,197.72 160.70,200.40 C165.30,203.08 170.12,206.17 173.00,208.00 C175.88,209.83 176.42,210.28 178.00,211.40 C179.58,212.52 181.75,214.17 182.50,214.70 C183.25,215.23 182.50,214.62 182.50,214.60 L183.70,209.40 L187.20,260.50" fill="none" stroke="#0000ff" stroke-width="1.85" stroke-dasharray="5.5 1.5 2.8 2" stroke-linejoin="round" clip-path="url(#clip_d)"/>
<path d="M21.50,158.60 C27.97,158.60 51.38,158.78 60.30,158.60 C69.22,158.42 70.05,157.10 75.00,157.50 C79.95,157.90 85.12,159.48 90.00,161.00 C94.88,162.52 99.88,165.10 104.30,166.60 C108.72,168.10 112.43,168.52 116.50,170.00 C120.57,171.48 125.17,173.83 128.70,175.50 C132.23,177.17 134.42,178.35 137.70,180.00 C140.98,181.65 144.95,183.48 148.40,185.40 C151.85,187.32 155.07,189.58 158.40,191.50 C161.73,193.42 165.37,195.25 168.40,196.90 C171.43,198.55 174.28,200.10 176.60,201.40 C178.92,202.70 181.03,204.02 182.30,204.70 C183.57,205.38 183.88,205.37 184.20,205.50 L187.20,260.50" fill="none" stroke="#0000ff" stroke-width="1.85" stroke-dasharray="5.8 5.9" stroke-linejoin="round" clip-path="url(#clip_d)"/>
<path d="M21.50,154.30 C22.92,154.47 27.42,154.85 30.00,155.30 C32.58,155.75 35.12,156.52 37.00,157.00 C38.88,157.48 39.13,157.27 41.30,158.20 C43.47,159.13 46.88,161.02 50.00,162.60 C53.12,164.18 56.67,165.87 60.00,167.70 C63.33,169.53 66.63,171.68 70.00,173.60 C73.37,175.52 76.78,177.25 80.20,179.20 C83.62,181.15 87.08,183.25 90.50,185.30 C93.92,187.35 97.45,189.52 100.70,191.50 C103.95,193.48 105.95,194.52 110.00,197.20 C114.05,199.88 120.00,204.22 125.00,207.60 C130.00,210.98 135.65,214.52 140.00,217.50 C144.35,220.48 146.93,222.67 151.10,225.50 C155.27,228.33 160.73,231.80 165.00,234.50 C169.27,237.20 173.90,240.03 176.70,241.70 C179.50,243.37 180.95,244.03 181.80,244.50 L187.40,260.30" fill="none" stroke="#0000ff" stroke-width="1.85"  stroke-linejoin="round" clip-path="url(#clip_d)"/>
<rect x="21.5" y="143.5" width="166.00" height="118.00" fill="none" stroke="#858585" stroke-width="1"/>
<rect x="24.2" y="218.9" width="57.30" height="38.90" fill="#fff" stroke="#858585" stroke-width="0.8"/>
<line x1="26.3" y1="224.40" x2="41.6" y2="224.40" stroke="#0000ff" stroke-width="1.85" />
<text x="42.60" y="227.00" font-size="7.5" font-weight="bold" text-anchor="start" fill="#000" stroke="#000" stroke-width="0.25" >ISS</text>
<line x1="26.3" y1="234.10" x2="41.6" y2="234.10" stroke="#0000ff" stroke-width="1.85" stroke-dasharray="6 5.8"/>
<text x="42.60" y="236.70" font-size="7.5" font-weight="bold" text-anchor="start" fill="#000" stroke="#000" stroke-width="0.25" >Standard</text>
<line x1="26.3" y1="243.30" x2="41.6" y2="243.30" stroke="#0000ff" stroke-width="1.85" stroke-dasharray="5.5 1.5 2.8 2"/>
<text x="42.60" y="245.90" font-size="7.5" font-weight="bold" text-anchor="start" fill="#000" stroke="#000" stroke-width="0.25" >Clearance</text>
<line x1="26.3" y1="253.10" x2="41.6" y2="253.10" stroke="#0000ff" stroke-width="1.85" stroke-dasharray="1.5 1.5"/>
<text x="42.60" y="255.70" font-size="7.5" font-weight="bold" text-anchor="start" fill="#000" stroke="#000" stroke-width="0.25" >Outergap</text>
<rect x="96.9" y="232.6" width="18.80" height="19.90" fill="#ffff00"/>
<text x="107.20" y="246.90" font-size="12" font-weight="bold" text-anchor="middle" fill="#000" stroke="#000" stroke-width="0.25" >Ti</text>
<text x="165.40" y="161.00" font-size="12" font-weight="bold" text-anchor="start" fill="#000" stroke="#000" stroke-width="0.25" >(d)</text>
<text x="57.00" y="200.20" font-size="14" font-weight="normal" text-anchor="start" fill="#000"  stroke="#000" stroke-width="0.3">(x0.1)</text>
<text x="0" y="0" font-size="8.9" font-weight="bold" textLength="32.7" lengthAdjust="spacing" transform="translate(9.80,220.90) rotate(-90)" stroke="#000" stroke-width="0.25">Ti [keV]</text>
<text x="94.00" y="285.60" font-size="9.5" font-style="italic" fill="#222">ψ</text>
<text x="100.90" y="290.90" font-size="7.3" font-weight="bold">p</text>
<text x="101.10" y="281.60" font-size="7.2" font-weight="bold">1/2</text>
<rect x="233.5" y="145.0" width="163.5" height="115.5" fill="#fff"/>
<clipPath id="clip_e"><rect x="233.5" y="145.0" width="163.5" height="115.5"/></clipPath>
<line x1="233.50" y1="260.5" x2="233.50" y2="258.5" stroke="#858585" stroke-width="0.8"/>
<line x1="233.50" y1="145.0" x2="233.50" y2="147.0" stroke="#858585" stroke-width="0.8"/>
<text x="232.80" y="271.10" font-size="8.5" font-weight="bold" text-anchor="middle" fill="#000" stroke="#000" stroke-width="0.25" >0</text>
<line x1="266.20" y1="260.5" x2="266.20" y2="258.5" stroke="#858585" stroke-width="0.8"/>
<line x1="266.20" y1="145.0" x2="266.20" y2="147.0" stroke="#858585" stroke-width="0.8"/>
<text x="265.50" y="271.10" font-size="8.5" font-weight="bold" text-anchor="middle" fill="#000" stroke="#000" stroke-width="0.25" >0.2</text>
<line x1="298.90" y1="260.5" x2="298.90" y2="258.5" stroke="#858585" stroke-width="0.8"/>
<line x1="298.90" y1="145.0" x2="298.90" y2="147.0" stroke="#858585" stroke-width="0.8"/>
<text x="298.20" y="271.10" font-size="8.5" font-weight="bold" text-anchor="middle" fill="#000" stroke="#000" stroke-width="0.25" >0.4</text>
<line x1="331.60" y1="260.5" x2="331.60" y2="258.5" stroke="#858585" stroke-width="0.8"/>
<line x1="331.60" y1="145.0" x2="331.60" y2="147.0" stroke="#858585" stroke-width="0.8"/>
<text x="330.90" y="271.10" font-size="8.5" font-weight="bold" text-anchor="middle" fill="#000" stroke="#000" stroke-width="0.25" >0.6</text>
<line x1="364.30" y1="260.5" x2="364.30" y2="258.5" stroke="#858585" stroke-width="0.8"/>
<line x1="364.30" y1="145.0" x2="364.30" y2="147.0" stroke="#858585" stroke-width="0.8"/>
<text x="363.60" y="271.10" font-size="8.5" font-weight="bold" text-anchor="middle" fill="#000" stroke="#000" stroke-width="0.25" >0.8</text>
<line x1="397.00" y1="260.5" x2="397.00" y2="258.5" stroke="#858585" stroke-width="0.8"/>
<line x1="397.00" y1="145.0" x2="397.00" y2="147.0" stroke="#858585" stroke-width="0.8"/>
<text x="396.30" y="271.10" font-size="8.5" font-weight="bold" text-anchor="middle" fill="#000" stroke="#000" stroke-width="0.25" >1</text>
<line x1="233.5" y1="260.50" x2="235.5" y2="260.50" stroke="#858585" stroke-width="0.8"/>
<line x1="397.0" y1="260.50" x2="395.0" y2="260.50" stroke="#858585" stroke-width="0.8"/>
<text x="229.10" y="263.40" font-size="8.5" font-weight="bold" text-anchor="end" fill="#000" stroke="#000" stroke-width="0.25" >0</text>
<line x1="233.5" y1="244.00" x2="235.5" y2="244.00" stroke="#858585" stroke-width="0.8"/>
<line x1="397.0" y1="244.00" x2="395.0" y2="244.00" stroke="#858585" stroke-width="0.8"/>
<text x="229.10" y="246.90" font-size="8.5" font-weight="bold" text-anchor="end" fill="#000" stroke="#000" stroke-width="0.25" >5</text>
<line x1="233.5" y1="227.50" x2="235.5" y2="227.50" stroke="#858585" stroke-width="0.8"/>
<line x1="397.0" y1="227.50" x2="395.0" y2="227.50" stroke="#858585" stroke-width="0.8"/>
<text x="229.10" y="230.40" font-size="8.5" font-weight="bold" text-anchor="end" fill="#000" stroke="#000" stroke-width="0.25" >10</text>
<line x1="233.5" y1="211.00" x2="235.5" y2="211.00" stroke="#858585" stroke-width="0.8"/>
<line x1="397.0" y1="211.00" x2="395.0" y2="211.00" stroke="#858585" stroke-width="0.8"/>
<text x="229.10" y="213.90" font-size="8.5" font-weight="bold" text-anchor="end" fill="#000" stroke="#000" stroke-width="0.25" >15</text>
<line x1="233.5" y1="194.50" x2="235.5" y2="194.50" stroke="#858585" stroke-width="0.8"/>
<line x1="397.0" y1="194.50" x2="395.0" y2="194.50" stroke="#858585" stroke-width="0.8"/>
<text x="229.10" y="197.40" font-size="8.5" font-weight="bold" text-anchor="end" fill="#000" stroke="#000" stroke-width="0.25" >20</text>
<line x1="233.5" y1="178.00" x2="235.5" y2="178.00" stroke="#858585" stroke-width="0.8"/>
<line x1="397.0" y1="178.00" x2="395.0" y2="178.00" stroke="#858585" stroke-width="0.8"/>
<text x="229.10" y="180.90" font-size="8.5" font-weight="bold" text-anchor="end" fill="#000" stroke="#000" stroke-width="0.25" >25</text>
<line x1="233.5" y1="161.50" x2="235.5" y2="161.50" stroke="#858585" stroke-width="0.8"/>
<line x1="397.0" y1="161.50" x2="395.0" y2="161.50" stroke="#858585" stroke-width="0.8"/>
<text x="229.10" y="164.40" font-size="8.5" font-weight="bold" text-anchor="end" fill="#000" stroke="#000" stroke-width="0.25" >30</text>
<line x1="233.5" y1="145.00" x2="235.5" y2="145.00" stroke="#858585" stroke-width="0.8"/>
<line x1="397.0" y1="145.00" x2="395.0" y2="145.00" stroke="#858585" stroke-width="0.8"/>
<text x="229.10" y="147.90" font-size="8.5" font-weight="bold" text-anchor="end" fill="#000" stroke="#000" stroke-width="0.25" >35</text>
<path d="M234.50,194.60 C235.27,195.20 237.48,196.75 239.10,198.20 C240.72,199.65 242.83,201.77 244.20,203.30 C245.57,204.83 246.27,206.03 247.30,207.40 C248.33,208.77 249.20,210.22 250.40,211.50 C251.60,212.78 253.13,214.12 254.50,215.10 C255.87,216.08 257.35,216.87 258.60,217.40 C259.85,217.93 260.90,218.07 262.00,218.30 C263.10,218.53 264.23,218.83 265.20,218.80 C266.17,218.77 266.93,217.37 267.80,218.10 C268.67,218.83 269.12,222.05 270.40,223.20 C271.68,224.35 272.95,224.18 275.50,225.00 C278.05,225.82 282.28,227.00 285.70,228.10 C289.12,229.20 293.62,230.82 296.00,231.60 C298.38,232.38 297.67,232.20 300.00,232.80 C302.33,233.40 306.67,234.43 310.00,235.20 C313.33,235.97 316.67,236.72 320.00,237.40 C323.33,238.08 326.67,238.63 330.00,239.30 C333.33,239.97 336.67,240.68 340.00,241.40 C343.33,242.12 345.90,242.92 350.00,243.60 C354.10,244.28 360.12,244.80 364.60,245.50 C369.08,246.20 372.80,247.02 376.90,247.80 C381.00,248.58 386.60,249.67 389.20,250.20 C391.80,250.73 391.95,250.87 392.50,251.00 L397.00,260.00" fill="none" stroke="#0000ff" stroke-width="1.85" stroke-dasharray="1.5 1.5" stroke-linejoin="round" clip-path="url(#clip_e)"/>
<path d="M234.50,212.60 C235.27,212.55 237.48,212.52 239.10,212.30 C240.72,212.08 242.58,211.68 244.20,211.30 C245.82,210.92 247.08,210.05 248.80,210.00 C250.52,209.95 252.70,210.67 254.50,211.00 C256.30,211.33 257.90,211.65 259.60,212.00 C261.30,212.35 263.00,212.67 264.70,213.10 C266.40,213.53 268.35,214.30 269.80,214.60 C271.25,214.90 271.60,214.25 273.40,214.90 C275.20,215.55 278.55,217.47 280.60,218.50 C282.65,219.53 283.98,220.42 285.70,221.10 C287.42,221.78 289.18,222.08 290.90,222.60 C292.62,223.12 294.48,223.65 296.00,224.20 C297.52,224.75 297.67,225.20 300.00,225.90 C302.33,226.60 306.67,227.55 310.00,228.40 C313.33,229.25 316.67,230.17 320.00,231.00 C323.33,231.83 326.67,232.55 330.00,233.40 C333.33,234.25 336.67,235.22 340.00,236.10 C343.33,236.98 345.90,237.72 350.00,238.70 C354.10,239.68 360.12,241.03 364.60,242.00 C369.08,242.97 372.80,243.70 376.90,244.50 C381.00,245.30 386.60,246.30 389.20,246.80 C391.80,247.30 391.95,247.38 392.50,247.50 L397.00,259.50" fill="none" stroke="#0000ff" stroke-width="1.85" stroke-dasharray="5.5 1.5 2.8 2" stroke-linejoin="round" clip-path="url(#clip_e)"/>
<path d="M234.50,192.60 C235.27,192.65 236.97,192.68 239.10,192.90 C241.23,193.12 245.42,193.52 247.30,193.90 C249.18,194.28 249.20,194.13 250.40,195.20 C251.60,196.27 253.32,198.85 254.50,200.30 C255.68,201.75 256.15,202.53 257.50,203.90 C258.85,205.27 261.07,207.32 262.60,208.50 C264.13,209.68 265.40,210.05 266.70,211.00 C268.00,211.95 269.28,213.58 270.40,214.20 C271.52,214.82 271.70,214.02 273.40,214.70 C275.10,215.38 278.55,217.27 280.60,218.30 C282.65,219.33 283.98,220.22 285.70,220.90 C287.42,221.58 289.18,221.88 290.90,222.40 C292.62,222.92 294.48,223.48 296.00,224.00 C297.52,224.52 297.67,224.83 300.00,225.50 C302.33,226.17 306.67,227.15 310.00,228.00 C313.33,228.85 316.67,229.77 320.00,230.60 C323.33,231.43 326.67,232.15 330.00,233.00 C333.33,233.85 336.67,234.82 340.00,235.70 C343.33,236.58 345.90,237.32 350.00,238.30 C354.10,239.28 360.12,240.65 364.60,241.60 C369.08,242.55 372.80,243.20 376.90,244.00 C381.00,244.80 386.60,245.87 389.20,246.40 C391.80,246.93 391.95,247.07 392.50,247.20 L397.00,259.50" fill="none" stroke="#0000ff" stroke-width="1.85" stroke-dasharray="5.8 5.9" stroke-linejoin="round" clip-path="url(#clip_e)"/>
<path d="M234.50,147.10 C235.27,147.13 237.48,147.18 239.10,147.30 C240.72,147.42 242.48,147.55 244.20,147.80 C245.92,148.05 247.68,148.40 249.40,148.80 C251.12,149.20 252.80,149.72 254.50,150.20 C256.20,150.68 257.90,151.15 259.60,151.70 C261.30,152.25 263.00,152.87 264.70,153.50 C266.40,154.13 268.08,154.78 269.80,155.50 C271.52,156.22 273.28,157.02 275.00,157.80 C276.72,158.58 278.40,159.38 280.10,160.20 C281.80,161.02 283.50,161.90 285.20,162.70 C286.90,163.50 288.08,163.92 290.30,165.00 C292.52,166.08 295.70,167.67 298.50,169.20 C301.30,170.73 304.25,172.28 307.10,174.20 C309.95,176.12 312.77,178.62 315.60,180.70 C318.43,182.78 321.25,184.57 324.10,186.70 C326.95,188.83 330.05,191.32 332.70,193.50 C335.35,195.68 336.73,196.90 340.00,199.80 C343.27,202.70 348.20,207.42 352.30,210.90 C356.40,214.38 360.50,217.42 364.60,220.70 C368.70,223.98 372.83,227.32 376.90,230.60 C380.97,233.88 386.55,238.50 389.00,240.40 C391.45,242.30 391.17,241.73 391.60,242.00 L397.00,259.80" fill="none" stroke="#0000ff" stroke-width="1.85"  stroke-linejoin="round" clip-path="url(#clip_e)"/>
<rect x="233.5" y="145.0" width="163.50" height="115.50" fill="none" stroke="#858585" stroke-width="1"/>
<rect x="336.1" y="150.3" width="55.90" height="37.80" fill="#fff" stroke="#858585" stroke-width="0.8"/>
<line x1="337.5" y1="154.70" x2="352.8" y2="154.70" stroke="#0000ff" stroke-width="1.85" />
<text x="353.70" y="157.30" font-size="7.5" font-weight="bold" text-anchor="start" fill="#000" stroke="#000" stroke-width="0.25" >ISS</text>
<line x1="337.5" y1="164.20" x2="352.8" y2="164.20" stroke="#0000ff" stroke-width="1.85" stroke-dasharray="6 5.8"/>
<text x="353.70" y="166.80" font-size="7.5" font-weight="bold" text-anchor="start" fill="#000" stroke="#000" stroke-width="0.25" >Standard</text>
<line x1="337.5" y1="173.20" x2="352.8" y2="173.20" stroke="#0000ff" stroke-width="1.85" stroke-dasharray="5.5 1.5 2.8 2"/>
<text x="353.70" y="175.80" font-size="7.5" font-weight="bold" text-anchor="start" fill="#000" stroke="#000" stroke-width="0.25" >Clearance</text>
<line x1="337.5" y1="183.00" x2="352.8" y2="183.00" stroke="#0000ff" stroke-width="1.85" stroke-dasharray="1.5 1.5"/>
<text x="353.70" y="185.60" font-size="7.5" font-weight="bold" text-anchor="start" fill="#000" stroke="#000" stroke-width="0.25" >Outergap</text>
<rect x="240.7" y="233.8" width="23.50" height="20.20" fill="#ffff00"/>
<text x="252.45" y="248.00" font-size="12" font-weight="bold" text-anchor="middle" fill="#000" stroke="#000" stroke-width="0.25" >Te</text>
<text x="302.70" y="161.00" font-size="12" font-weight="bold" text-anchor="start" fill="#000" stroke="#000" stroke-width="0.25" >(e)</text>
<text x="0" y="0" font-size="8.9" font-weight="bold" textLength="33.2" lengthAdjust="spacing" transform="translate(217.80,220.90) rotate(-90)" stroke="#000" stroke-width="0.25">Te [keV]</text>
<text x="305.00" y="284.20" font-size="9.5" font-style="italic" fill="#222">ψ</text>
<text x="311.90" y="289.50" font-size="7.3" font-weight="bold">p</text>
<text x="312.10" y="280.20" font-size="7.2" font-weight="bold">1/2</text>
<rect x="436.5" y="144.5" width="166.0" height="118.0" fill="#fff"/>
<clipPath id="clip_f"><rect x="436.5" y="144.5" width="166.0" height="118.0"/></clipPath>
<line x1="436.50" y1="262.5" x2="436.50" y2="260.5" stroke="#858585" stroke-width="0.8"/>
<line x1="436.50" y1="144.5" x2="436.50" y2="146.5" stroke="#858585" stroke-width="0.8"/>
<text x="435.80" y="273.10" font-size="8.5" font-weight="bold" text-anchor="middle" fill="#000" stroke="#000" stroke-width="0.25" >0</text>
<line x1="469.70" y1="262.5" x2="469.70" y2="260.5" stroke="#858585" stroke-width="0.8"/>
<line x1="469.70" y1="144.5" x2="469.70" y2="146.5" stroke="#858585" stroke-width="0.8"/>
<text x="469.00" y="273.10" font-size="8.5" font-weight="bold" text-anchor="middle" fill="#000" stroke="#000" stroke-width="0.25" >0.2</text>
<line x1="502.90" y1="262.5" x2="502.90" y2="260.5" stroke="#858585" stroke-width="0.8"/>
<line x1="502.90" y1="144.5" x2="502.90" y2="146.5" stroke="#858585" stroke-width="0.8"/>
<text x="502.20" y="273.10" font-size="8.5" font-weight="bold" text-anchor="middle" fill="#000" stroke="#000" stroke-width="0.25" >0.4</text>
<line x1="536.10" y1="262.5" x2="536.10" y2="260.5" stroke="#858585" stroke-width="0.8"/>
<line x1="536.10" y1="144.5" x2="536.10" y2="146.5" stroke="#858585" stroke-width="0.8"/>
<text x="535.40" y="273.10" font-size="8.5" font-weight="bold" text-anchor="middle" fill="#000" stroke="#000" stroke-width="0.25" >0.6</text>
<line x1="569.30" y1="262.5" x2="569.30" y2="260.5" stroke="#858585" stroke-width="0.8"/>
<line x1="569.30" y1="144.5" x2="569.30" y2="146.5" stroke="#858585" stroke-width="0.8"/>
<text x="568.60" y="273.10" font-size="8.5" font-weight="bold" text-anchor="middle" fill="#000" stroke="#000" stroke-width="0.25" >0.8</text>
<line x1="602.50" y1="262.5" x2="602.50" y2="260.5" stroke="#858585" stroke-width="0.8"/>
<line x1="602.50" y1="144.5" x2="602.50" y2="146.5" stroke="#858585" stroke-width="0.8"/>
<text x="601.80" y="273.10" font-size="8.5" font-weight="bold" text-anchor="middle" fill="#000" stroke="#000" stroke-width="0.25" >1</text>
<line x1="436.5" y1="262.50" x2="438.5" y2="262.50" stroke="#858585" stroke-width="0.8"/>
<line x1="602.5" y1="262.50" x2="600.5" y2="262.50" stroke="#858585" stroke-width="0.8"/>
<text x="431.50" y="265.40" font-size="8.5" font-weight="bold" text-anchor="end" fill="#000" stroke="#000" stroke-width="0.25" >0</text>
<line x1="436.5" y1="242.83" x2="438.5" y2="242.83" stroke="#858585" stroke-width="0.8"/>
<line x1="602.5" y1="242.83" x2="600.5" y2="242.83" stroke="#858585" stroke-width="0.8"/>
<text x="431.50" y="245.73" font-size="8.5" font-weight="bold" text-anchor="end" fill="#000" stroke="#000" stroke-width="0.25" >2</text>
<line x1="436.5" y1="223.17" x2="438.5" y2="223.17" stroke="#858585" stroke-width="0.8"/>
<line x1="602.5" y1="223.17" x2="600.5" y2="223.17" stroke="#858585" stroke-width="0.8"/>
<text x="431.50" y="226.07" font-size="8.5" font-weight="bold" text-anchor="end" fill="#000" stroke="#000" stroke-width="0.25" >4</text>
<line x1="436.5" y1="203.50" x2="438.5" y2="203.50" stroke="#858585" stroke-width="0.8"/>
<line x1="602.5" y1="203.50" x2="600.5" y2="203.50" stroke="#858585" stroke-width="0.8"/>
<text x="431.50" y="206.40" font-size="8.5" font-weight="bold" text-anchor="end" fill="#000" stroke="#000" stroke-width="0.25" >6</text>
<line x1="436.5" y1="183.83" x2="438.5" y2="183.83" stroke="#858585" stroke-width="0.8"/>
<line x1="602.5" y1="183.83" x2="600.5" y2="183.83" stroke="#858585" stroke-width="0.8"/>
<text x="431.50" y="186.73" font-size="8.5" font-weight="bold" text-anchor="end" fill="#000" stroke="#000" stroke-width="0.25" >8</text>
<line x1="436.5" y1="164.17" x2="438.5" y2="164.17" stroke="#858585" stroke-width="0.8"/>
<line x1="602.5" y1="164.17" x2="600.5" y2="164.17" stroke="#858585" stroke-width="0.8"/>
<text x="431.50" y="167.07" font-size="8.5" font-weight="bold" text-anchor="end" fill="#000" stroke="#000" stroke-width="0.25" >10</text>
<line x1="436.5" y1="144.50" x2="438.5" y2="144.50" stroke="#858585" stroke-width="0.8"/>
<line x1="602.5" y1="144.50" x2="600.5" y2="144.50" stroke="#858585" stroke-width="0.8"/>
<text x="431.50" y="147.40" font-size="8.5" font-weight="bold" text-anchor="end" fill="#000" stroke="#000" stroke-width="0.25" >12</text>
<path d="M436.50,153.14 C437.70,153.12 441.31,153.01 443.71,153.02 C446.11,153.03 448.51,153.09 450.92,153.20 C453.32,153.31 455.72,153.46 458.13,153.66 C460.53,153.87 462.93,154.11 465.33,154.41 C467.74,154.70 470.14,155.03 472.54,155.41 C474.95,155.79 477.35,156.21 479.75,156.67 C482.16,157.13 484.56,157.63 486.96,158.16 C489.36,158.70 491.77,159.28 494.17,159.89 C496.57,160.51 498.98,161.16 501.38,161.84 C503.78,162.53 506.18,163.25 508.59,164.00 C510.99,164.76 513.39,165.55 515.80,166.37 C518.20,167.19 520.60,168.04 523.00,168.92 C525.41,169.81 527.81,170.72 530.21,171.66 C532.62,172.61 535.02,173.58 537.42,174.58 C539.82,175.58 542.23,176.61 544.63,177.66 C547.03,178.72 549.44,179.80 551.84,180.91 C554.24,182.01 556.64,183.15 559.05,184.30 C561.45,185.46 563.85,186.64 566.26,187.84 C568.66,189.05 571.06,190.27 573.47,191.52 C575.87,192.77 578.27,194.04 580.67,195.33 C583.08,196.62 585.48,197.94 587.88,199.27 C590.29,200.60 592.69,201.96 595.09,203.33 C597.49,204.70 601.10,206.81 602.30,207.50" fill="none" stroke="#0000ff" stroke-width="1.85" stroke-dasharray="1.5 1.5" stroke-linejoin="round" clip-path="url(#clip_f)"/>
<path d="M436.50,152.90 C437.70,152.88 441.31,152.76 443.71,152.77 C446.11,152.77 448.51,152.84 450.92,152.94 C453.32,153.05 455.72,153.21 458.13,153.41 C460.53,153.61 462.93,153.86 465.33,154.15 C467.74,154.44 470.14,154.77 472.54,155.14 C474.95,155.51 477.35,155.92 479.75,156.36 C482.16,156.81 484.56,157.29 486.96,157.81 C489.36,158.33 491.77,158.88 494.17,159.47 C496.57,160.05 498.98,160.67 501.38,161.32 C503.78,161.98 506.18,162.66 508.59,163.37 C510.99,164.09 513.39,164.84 515.80,165.61 C518.20,166.39 520.60,167.19 523.00,168.03 C525.41,168.87 527.81,169.73 530.21,170.63 C532.62,171.52 535.02,172.45 537.42,173.41 C539.82,174.36 542.23,175.35 544.63,176.36 C547.03,177.38 549.44,178.43 551.84,179.51 C554.24,180.59 556.64,181.70 559.05,182.84 C561.45,183.98 563.85,185.16 566.26,186.37 C568.66,187.58 571.06,188.82 573.47,190.11 C575.87,191.39 578.27,192.70 580.67,194.06 C583.08,195.41 585.48,196.81 587.88,198.24 C590.29,199.68 592.69,201.15 595.09,202.67 C597.49,204.19 601.10,206.58 602.30,207.36" fill="none" stroke="#0000ff" stroke-width="1.85" stroke-dasharray="5.5 1.5 2.8 2" stroke-linejoin="round" clip-path="url(#clip_f)"/>
<path d="M436.50,152.66 C437.70,152.64 441.31,152.51 443.71,152.51 C446.11,152.52 448.51,152.58 450.92,152.69 C453.32,152.80 455.72,152.96 458.13,153.16 C460.53,153.36 462.93,153.61 465.33,153.89 C467.74,154.18 470.14,154.50 472.54,154.87 C474.95,155.23 477.35,155.63 479.75,156.06 C482.16,156.49 484.56,156.96 486.96,157.45 C489.36,157.95 491.77,158.48 494.17,159.04 C496.57,159.60 498.98,160.19 501.38,160.81 C503.78,161.42 506.18,162.07 508.59,162.74 C510.99,163.42 513.39,164.12 515.80,164.85 C518.20,165.59 520.60,166.35 523.00,167.14 C525.41,167.93 527.81,168.74 530.21,169.59 C532.62,170.44 535.02,171.32 537.42,172.23 C539.82,173.14 542.23,174.09 544.63,175.07 C547.03,176.05 549.44,177.06 551.84,178.11 C554.24,179.16 556.64,180.25 559.05,181.38 C561.45,182.51 563.85,183.68 566.26,184.90 C568.66,186.12 571.06,187.38 573.47,188.69 C575.87,190.00 578.27,191.36 580.67,192.79 C583.08,194.21 585.48,195.68 587.88,197.21 C590.29,198.75 592.69,200.35 595.09,202.01 C597.49,203.68 601.10,206.36 602.30,207.22" fill="none" stroke="#0000ff" stroke-width="1.85" stroke-dasharray="5.8 5.9" stroke-linejoin="round" clip-path="url(#clip_f)"/>
<path d="M436.50,204.31 C437.90,204.40 442.10,204.60 444.89,204.88 C447.69,205.17 450.49,205.57 453.29,206.03 C456.09,206.49 458.89,207.04 461.68,207.66 C464.48,208.27 467.28,208.96 470.08,209.70 C472.88,210.44 475.68,211.24 478.47,212.09 C481.27,212.93 484.07,213.83 486.87,214.76 C489.67,215.69 492.46,216.67 495.26,217.67 C498.06,218.68 500.86,219.72 503.66,220.78 C506.46,221.84 509.25,222.93 512.05,224.03 C514.85,225.14 517.65,226.26 520.45,227.41 C523.25,228.55 526.04,229.71 528.84,230.88 C531.64,232.05 534.44,233.24 537.24,234.44 C540.04,235.63 542.83,236.84 545.63,238.06 C548.43,239.28 551.23,240.51 554.03,241.76 C556.82,243.00 559.62,244.26 562.42,245.53 C565.22,246.80 568.02,248.08 570.82,249.38 C573.61,250.68 576.41,252.00 579.21,253.34 C582.01,254.68 584.81,256.03 587.61,257.42 C590.40,258.81 594.60,260.96 596.00,261.67 L602.50,261.60" fill="none" stroke="#0000ff" stroke-width="1.85"  stroke-linejoin="round" clip-path="url(#clip_f)"/>
<rect x="436.5" y="144.5" width="166.00" height="118.00" fill="none" stroke="#858585" stroke-width="1"/>
<rect x="438.7" y="221.5" width="57.00" height="38.70" fill="#fff" stroke="#858585" stroke-width="0.8"/>
<line x1="440.8" y1="227.00" x2="456.3" y2="227.00" stroke="#0000ff" stroke-width="1.85" />
<text x="457.00" y="229.60" font-size="7.5" font-weight="bold" text-anchor="start" fill="#000" stroke="#000" stroke-width="0.25" >ISS</text>
<line x1="440.8" y1="235.90" x2="456.3" y2="235.90" stroke="#0000ff" stroke-width="1.85" stroke-dasharray="6 5.8"/>
<text x="457.00" y="238.50" font-size="7.5" font-weight="bold" text-anchor="start" fill="#000" stroke="#000" stroke-width="0.25" >Standard</text>
<line x1="440.8" y1="245.50" x2="456.3" y2="245.50" stroke="#0000ff" stroke-width="1.85" stroke-dasharray="5.5 1.5 2.8 2"/>
<text x="457.00" y="248.10" font-size="7.5" font-weight="bold" text-anchor="start" fill="#000" stroke="#000" stroke-width="0.25" >Clearance</text>
<line x1="440.8" y1="254.30" x2="456.3" y2="254.30" stroke="#0000ff" stroke-width="1.85" stroke-dasharray="1.5 1.5"/>
<text x="457.00" y="256.90" font-size="7.5" font-weight="bold" text-anchor="start" fill="#000" stroke="#000" stroke-width="0.25" >Outergap</text>
<rect x="507.3" y="233.9" width="20" height="19.8" fill="#ffff00"/>
<text x="516.9" y="248.5" font-size="14.2" font-weight="bold" text-anchor="middle" font-family="'Liberation Serif', serif" fill="#000">Ω</text>
<text x="573.70" y="161.00" font-size="12" font-weight="bold" text-anchor="start" fill="#000" stroke="#000" stroke-width="0.25" >(f)</text>
<text x="504.60" y="218.20" font-size="14" font-weight="normal" text-anchor="start" fill="#000"  stroke="#000" stroke-width="0.3">(x0.1)</text>
<text x="0" y="0" font-size="8.9" font-weight="bold" textLength="104.2" lengthAdjust="spacing" transform="translate(419.00,261.60) rotate(-90)" stroke="#000" stroke-width="0.25">toroidal rotation [krad/s]</text>
<text x="509.00" y="286.40" font-size="9.5" font-style="italic" fill="#222">ψ</text>
<text x="515.90" y="291.70" font-size="7.3" font-weight="bold">p</text>
<text x="516.10" y="282.40" font-size="7.2" font-weight="bold">1/2</text>
</svg>
</body></html>
